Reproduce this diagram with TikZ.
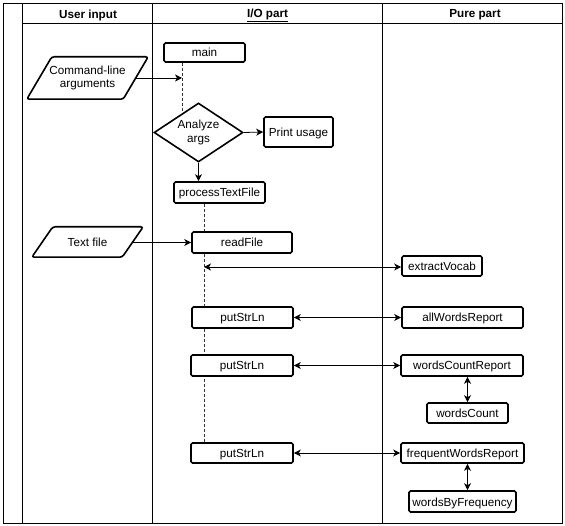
\documentclass[tikz,border=0pt]{standalone}
\usepackage{fontspec}
\setmainfont{Liberation Sans}
\usetikzlibrary{shapes.geometric,arrows.meta,backgrounds}
\begin{document}
\begin{tikzpicture}[x=1pt,y=-1pt,
  font=\fontsize{11.7pt}{13.5pt}\selectfont,
  box/.style={draw,line width=1.6pt,rounded corners=1.5pt,fill=white,inner sep=0pt,minimum height=21pt,text height=10pt,text depth=1pt},
  dec/.style={draw,shape=diamond,line width=1.6pt,fill=white,inner sep=0pt,aspect=1.5,minimum width=89pt,minimum height=59pt,align=center},
  io/.style={inner sep=0pt,align=center},
  frame/.style={line width=0.9pt},
  arr/.style={line width=0.8pt,-{Stealth[length=7pt,width=7pt,inset=2pt]}},
  darr/.style={line width=0.8pt,{Stealth[length=7pt,width=7pt,inset=2pt]}-{Stealth[length=7pt,width=7pt,inset=2pt]}},
  life/.style={line width=0.8pt,dash pattern=on 3pt off 2pt,draw=black!80},
  hdr/.style={font=\fontsize{11.7pt}{13.5pt}\selectfont\bfseries}]
\useasboundingbox (0,0) rectangle (565,526);
% frame and lanes
\draw[frame] (3,3) rectangle (562,523);
\draw[frame] (22,3) -- (22,523);
\draw[frame] (152,3) -- (152,523);
\draw[frame] (382,3) -- (382,523);
\draw[frame] (22,23) -- (562,23);
\node[hdr] (h1) at (88,15) {User input};
\node[hdr] (h2) at (267.5,15) {\underline{I/O part}};
\node[hdr] (h3) at (475,15) {Pure part};
% nodes
\node[box,minimum width=81pt,minimum height=19pt] (main) at (204.5,52.5) {main};
\node[dec] (an) at (198.5,132.5) {Analyze\\args};
\node[box,minimum width=69pt,minimum height=30pt] (pu) at (298.5,132) {Print usage};
\node[box,minimum width=91pt] (ptf) at (219.5,192.5) {processTextFile};
\node[box,minimum width=100pt] (rf) at (242,242.5) {readFile};
\node[box,minimum width=80pt,minimum height=20pt] (ev) at (442,266) {extractVocab};
\node[box,minimum width=101pt] (ps1) at (242.5,317.5) {putStrLn};
\node[box,minimum width=121pt] (awr) at (462.5,317.5) {allWordsReport};
\node[box,minimum width=102pt] (ps2) at (242,365.5) {putStrLn};
\node[box,minimum width=122pt] (wcr) at (462,365.5) {wordsCountReport};
\node[box,minimum width=81pt,minimum height=20pt] (wc) at (467.5,413) {wordsCount};
\node[box,minimum width=102pt,minimum height=20pt] (ps3) at (242,453) {putStrLn};
\node[box,minimum width=123pt,minimum height=20pt] (fwr) at (462.5,453) {frequentWordsReport};
\node[box,minimum width=107pt] (wbf) at (462.5,501.5) {wordsByFrequency};
% parallelograms (user input)
\node[io,minimum width=96pt,minimum height=42pt] (cla) at (87.5,78) {Command-line\\arguments};
\draw[line width=1.6pt,rounded corners=2.5pt]
  ([xshift=-12.5pt]cla.south west) -- ([xshift=12.5pt]cla.north west) --
  ([xshift=12.5pt]cla.north east) -- ([xshift=-12.5pt]cla.south east) -- cycle;
\node[io,minimum width=90pt,minimum height=30pt] (tf) at (87.5,242) {Text file};
\draw[line width=1.6pt,rounded corners=2.5pt]
  ([xshift=-10.5pt]tf.south west) -- ([xshift=10.5pt]tf.north west) --
  ([xshift=10.5pt]tf.north east) -- ([xshift=-10.5pt]tf.south east) -- cycle;
% lifelines
\coordinate (l1) at (182,78);
\coordinate (l2) at (204,267);
\begin{scope}[on background layer]
\draw[life] (main.south -| l1) -- (an.center -| l1);
\draw[life] (ptf.south -| l2) -- (ps3.north -| l2);
\end{scope}
% connectors
\draw[arr] (cla.east) -- (l1);
\draw[arr] (an.east) -- (pu.west);
\draw[arr] (an.south) -- (an.south |- ptf.north);
\draw[arr] (tf.east |- rf.west) -- (rf.west);
\draw[darr] (l2) -- (l2 -| ev.west);
\draw[darr] (ps1.east) -- (awr.west);
\draw[darr] (ps2.east) -- (wcr.west);
\draw[darr] (ps3.east) -- (fwr.west);
\draw[darr] (wcr.south -| wc.north) -- (wc.north);
\draw[darr] (fwr.south -| wc.north) -- (wc.north |- wbf.north);
\end{tikzpicture}
\end{document}
